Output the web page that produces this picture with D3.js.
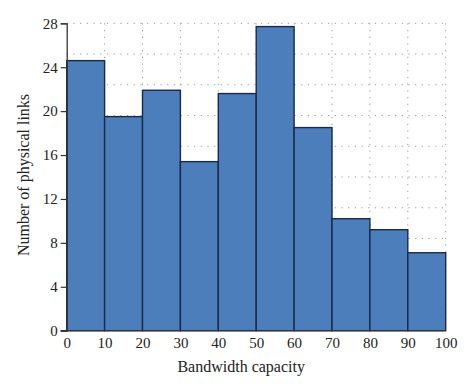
<!DOCTYPE html>
<html><head><meta charset="utf-8">
<script src="https://cdn.jsdelivr.net/npm/d3@7"></script>
<style>body{margin:0;background:#fff}svg{display:block}</style>
</head><body><svg id="c" width="474" height="391"></svg>
<script>
const binStarts = [0,10,20,30,40,50,60,70,80,90];
const binWidth = 10;
const counts = [24.6,19.5,21.9,15.4,21.6,27.7,18.5,10.2,9.2,7.1];
const xTicks = [0,10,20,30,40,50,60,70,80,90,100];
const yTicks = [0,4,8,12,16,20,24,28];
const gridY = [2.8,5.6,8.4,11.2,14,16.8,19.6,22.4,25.2,28];
const gridX = [10,20,30,40,50,60,70,80,90,100];

const svg = d3.select("#c");
const L=66.7, R=445.7, T=23.3, B=330.7;
const x = d3.scaleLinear().domain([0,100]).range([L,R]);
const y = d3.scaleLinear().domain([0,28]).range([B,T]);
const font = "'Liberation Serif','Times New Roman',serif";

const g = svg.append("g");
g.selectAll("line.gy").data(gridY).enter().append("line")
  .attr("x1",L).attr("x2",R).attr("y1",d=>y(d)).attr("y2",d=>y(d))
  .attr("stroke","#999").attr("stroke-width",1).attr("stroke-dasharray","1.2,5.5");
g.selectAll("line.gx").data(gridX).enter().append("line")
  .attr("x1",d=>x(d)).attr("x2",d=>x(d)).attr("y1",T).attr("y2",B)
  .attr("stroke","#999").attr("stroke-width",1).attr("stroke-dasharray","1.2,5.5");

svg.selectAll("rect.bar").data(binStarts).enter().append("rect")
  .attr("x",d=>x(d)).attr("width",d=>x(d+binWidth)-x(d))
  .attr("y",(d,i)=>y(counts[i])).attr("height",(d,i)=>B-y(counts[i]))
  .attr("fill","#4d7ebc").attr("stroke","#1a2a44").attr("stroke-width",1.4);

const ya = svg.append("g").attr("transform",`translate(${L},0)`)
  .call(d3.axisLeft(y).tickValues(yTicks).tickSize(6).tickPadding(3).tickFormat(d3.format("d")));
ya.select(".domain").attr("stroke","#333").attr("stroke-width",1.3);
ya.selectAll(".tick line").attr("stroke","#333").attr("stroke-width",1.2);
ya.selectAll("text").attr("font-family",font).attr("font-size","15px").attr("fill","#222");

const xa = svg.append("g").attr("transform",`translate(0,${B})`)
  .call(d3.axisBottom(x).tickValues(xTicks).tickSize(0).tickPadding(7).tickFormat(d3.format("d")));
xa.select(".domain").attr("stroke","#333").attr("stroke-width",1.3).attr("d",`M${L-6},0H${R}`);
xa.selectAll("text").attr("font-family",font).attr("font-size","15px").attr("fill","#222");

svg.append("text").attr("x",(L+R)/2-15).attr("y",372).attr("text-anchor","middle")
  .attr("font-family",font).attr("font-size","16px").attr("fill","#222").text("Bandwidth capacity");
svg.append("text").attr("transform",`translate(29,175) rotate(-90)`).attr("text-anchor","middle")
  .attr("font-family",font).attr("font-size","16px").attr("fill","#222").text("Number of physical links");
</script></body></html>
